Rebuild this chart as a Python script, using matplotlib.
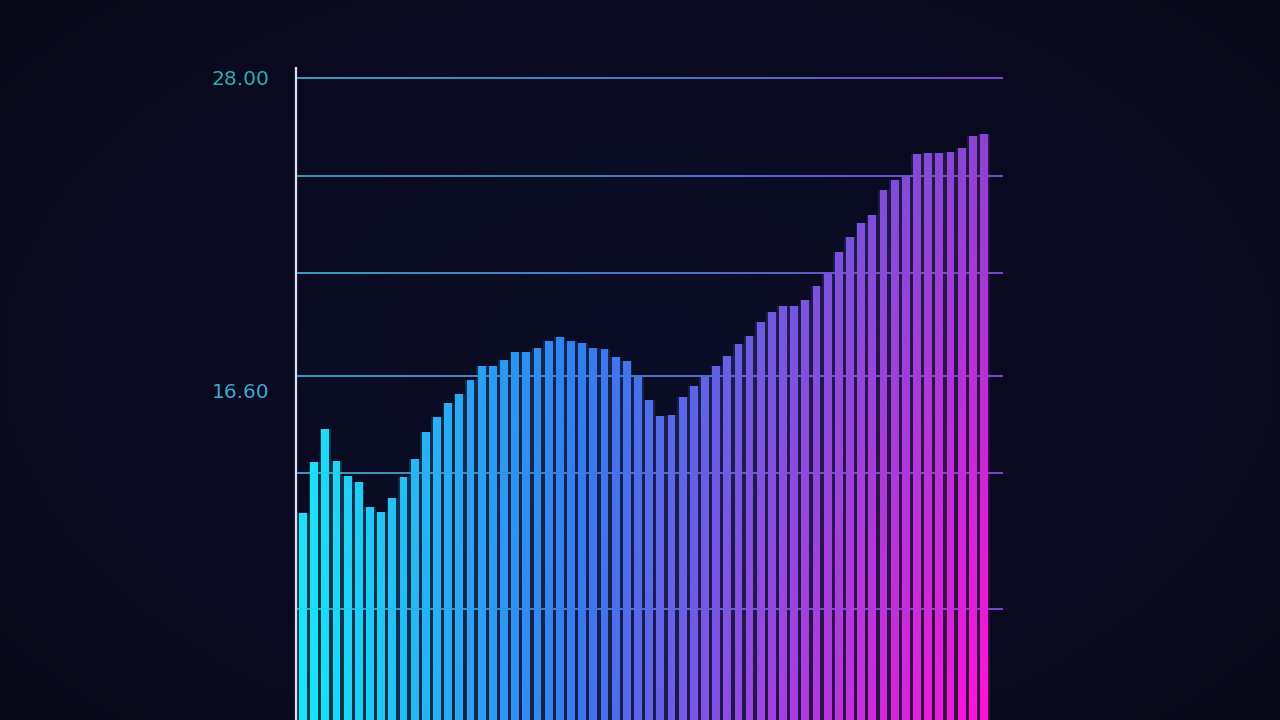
import matplotlib
matplotlib.use("Agg")
import matplotlib.pyplot as plt
import numpy as np
from matplotlib.collections import LineCollection
from matplotlib.colors import LinearSegmentedColormap
from matplotlib.path import Path

# bar heights (left to right)
values = [
    12.16, 14.01, 15.22, 14.05, 13.50, 13.29, 12.38, 12.19, 12.70, 13.47,
    14.12, 15.11, 15.65, 16.16, 16.49, 17.00, 17.51, 17.51, 17.73, 18.02,
    18.02, 18.17, 18.42, 18.57, 18.42, 18.35, 18.17, 18.13, 17.84, 17.69,
    17.11, 16.27, 15.69, 15.73, 16.38, 16.78, 17.11, 17.51, 17.88, 18.31,
    18.60, 19.11, 19.48, 19.70, 19.70, 19.91, 20.42, 20.90, 21.66, 22.21,
    22.72, 23.01, 23.92, 24.29, 24.43, 25.23, 25.27, 25.27, 25.30, 25.45,
    25.89, 25.96,
]
tick_values = [16.6, 28.0]
tick_labels = ["16.60", "28.00"]
tick_colors = ["#3eaad0", "#2aaeb4"]
grid_values = [28.0, 24.43, 20.90, 17.15, 13.61, 8.66]

BG = "#0a0b20"
Y_LO, Y_HI = 4.62, 28.36
X_LO, X_HI = -0.63, 62.7

fig = plt.figure(figsize=(12.8, 7.2), dpi=100, facecolor=BG)

# soft vignette behind everything
bg_ax = fig.add_axes([0, 0, 1, 1], zorder=-10)
yy, xx = np.mgrid[0:1:180j, 0:1:320j]
r = np.clip(np.sqrt(((xx - 0.5) / 0.8) ** 2 + ((yy - 0.5) / 0.9) ** 2), 0, 1)
vign = LinearSegmentedColormap.from_list("vign", ["#0c0e27", "#0a0b21", "#060712"])
bg_ax.imshow(r, cmap=vign, aspect="auto", extent=(0, 1, 0, 1), vmin=0, vmax=1)
bg_ax.axis("off")

ax = fig.add_axes([296 / 1280, 0, 707 / 1280, 652 / 720])
ax.set_facecolor("none")
ax.set_xlim(X_LO, X_HI)
ax.set_ylim(Y_LO, Y_HI)

x = np.arange(len(values))

#####################
# GRIDLINES         #
#####################
grid_cmap = LinearSegmentedColormap.from_list("grid", ["#3a9cc0", "#4a78c8", "#7a48c8"])
xs = np.linspace(X_LO, X_HI, 120)
for gv in grid_values:
    pts = np.column_stack([xs, np.full_like(xs, gv)])
    segs = np.stack([pts[:-1], pts[1:]], axis=1)
    cols = grid_cmap(np.linspace(0, 1, len(segs)))
    ax.add_collection(LineCollection(segs, colors=cols, linewidths=1.4, zorder=1))
    # faint copy on top so the line shows through the bars a little
    ax.add_collection(LineCollection(segs, colors=cols, linewidths=1.1, alpha=0.18, zorder=5))

#####################
# GRADIENT BARS     #
#####################
top_cmap = LinearSegmentedColormap.from_list(
    "top", [(0, "#30d6f4"), (0.4, "#2a84f0"), (1, "#8c44d2")])
bot_cmap = LinearSegmentedColormap.from_list(
    "bot", [(0, "#12e8fa"), (0.4, "#3c76f0"), (0.66, "#9a46e2"), (1, "#ff12d8")])

gx = np.linspace(X_LO, X_HI, 500)
gy = np.linspace(Y_LO, Y_HI, 400)
u = np.clip(gx / (len(values) - 1), 0, 1)
v = np.clip((max(values) - gy) / (max(values) - Y_LO), 0, 1)
top_rgb = top_cmap(u)[:, :3]
bot_rgb = bot_cmap(u)[:, :3]
grad = (1 - v)[:, None, None] * top_rgb[None, :, :] + v[:, None, None] * bot_rgb[None, :, :]


def clip_from(bars):
    return Path.make_compound_path(
        *[b.get_path().transformed(b.get_patch_transform()) for b in bars])


# faint glow filling the gaps between bars
glow = ax.bar(x, values, width=1.0, bottom=0, color="none", edgecolor="none")
im_glow = ax.imshow(grad, extent=(X_LO, X_HI, Y_LO, Y_HI), origin="lower",
                    aspect="auto", alpha=0.2, zorder=2, interpolation="bilinear")
im_glow.set_clip_path(clip_from(glow), ax.transData)

bars = ax.bar(x, values, width=0.7, bottom=0, color="none", edgecolor="none")
im = ax.imshow(grad, extent=(X_LO, X_HI, Y_LO, Y_HI), origin="lower",
               aspect="auto", zorder=3, interpolation="bilinear")
im.set_clip_path(clip_from(bars), ax.transData)

#####################
# AXES STYLING      #
#####################
for side in ["top", "right", "bottom"]:
    ax.spines[side].set_visible(False)
ax.spines["left"].set_color("#dcdcf0")
ax.spines["left"].set_linewidth(1.6)
ax.spines["left"].set_zorder(6)

ax.set_xticks([])
ax.set_yticks(tick_values)
ax.set_yticklabels(tick_labels, fontsize=14.5, family="DejaVu Sans")
for lbl, col in zip(ax.get_yticklabels(), tick_colors):
    lbl.set_color(col)
ax.tick_params(axis="y", length=0, pad=19)

fig.savefig("out.png", dpi=100, facecolor=BG)
